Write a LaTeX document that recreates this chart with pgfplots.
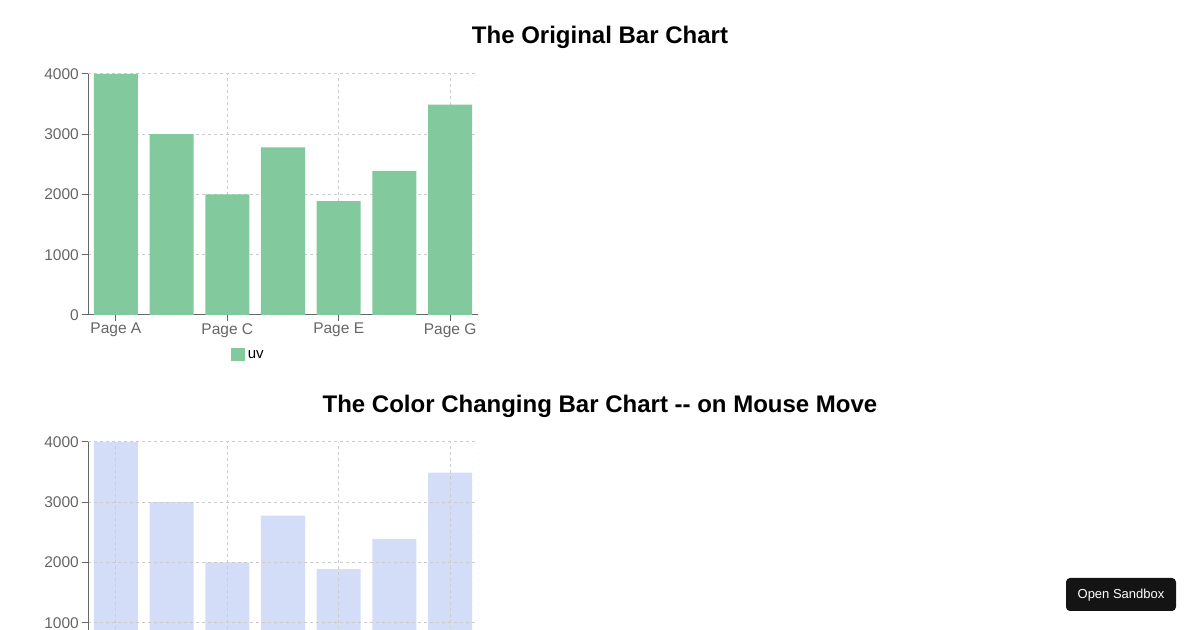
\documentclass[border=0pt]{standalone}
\usepackage{fontspec}
\setmainfont{Liberation Sans}
\usepackage{pgfplots}
\pgfplotsset{compat=1.18}
\definecolor{uvgreen}{HTML}{82CA9D}
\definecolor{paleblue}{HTML}{D4DDF8}
\definecolor{axisgray}{HTML}{666666}
\definecolor{gridgray}{HTML}{CCCCCC}

\pgfplotstableread{
x uv
0 4000
1 3000
2 2000
3 2780
4 1890
5 2390
6 3490
}\pagedata

\pgfplotsset{
  pagechart/.style={
    scale only axis,
    width=390bp, height=241bp,
    anchor=south west,
    xmin=-0.5, xmax=6.5,
    ymin=0, ymax=4000,
    xtick={0,2,4,6},
    xticklabels={Page A,Page C,Page E,Page G},
    ytick={0,1000,2000,3000,4000},
    scaled y ticks=false,
    /pgf/number format/1000 sep={},
    /pgf/number format/assume math mode=true,
    axis x line*=bottom, axis y line*=left,
    axis line style={axisgray, line width=1bp, -},
    tick align=outside,
    major tick length=6bp,
    tick style={axisgray, line width=1bp},
    ticklabel style={font=\fontsize{15.5bp}{18bp}\selectfont, text=axisgray},
    xticklabel style={inner sep=0pt, yshift=-2bp},
    yticklabel style={inner sep=0pt, xshift=-3bp},
    grid=major,
    grid style={gridgray, line width=1bp, dash pattern=on 3bp off 3bp},
    ybar, bar width=44bp,
  }
}

\begin{document}
\begin{tikzpicture}[x=1bp, y=1bp]
\useasboundingbox (0,0) rectangle (1200,630);
\clip (0,0) rectangle (1200,630);

% titles
\node[font=\fontsize{24bp}{28bp}\selectfont\bfseries] at (600,593) {The Original Bar Chart};
\node[font=\fontsize{24bp}{28bp}\selectfont\bfseries] at (600,224) {The Color Changing Bar Chart -{}- on Mouse Move};

% original chart
\begin{axis}[pagechart, at={(88bp,315bp)},
  legend style={at={(0.412,-0.166)}, anchor=center, draw=none, fill=none,
    font=\fontsize{15bp}{18bp}\selectfont, inner sep=0pt,
    nodes={inner xsep=3bp, inner ysep=0pt}},
  legend image code/.code={\fill[uvgreen] (0bp,-6.5bp) rectangle (14bp,6.5bp);},
]
  \addplot[fill=uvgreen, draw=none] table[x=x, y=uv] {\pagedata};
  \addlegendentry{uv}
  \draw[gridgray, line width=1bp, dash pattern=on 3bp off 3bp] (axis cs:6.5,0) -- (axis cs:6.5,4000);
\end{axis}

% colour changing chart (cut off at the bottom of the page, so no x labels show)
\begin{axis}[pagechart, at={(88bp,-53bp)}, axis on top, xticklabels={}]
  \addplot[fill=paleblue, draw=none] table[x=x, y=uv] {\pagedata};
  \draw[gridgray, line width=1bp, dash pattern=on 3bp off 3bp] (axis cs:6.5,0) -- (axis cs:6.5,4000);
\end{axis}

% sandbox button
\fill[black!92, rounded corners=4bp] (1066,19) rectangle (1176,52);
\node[text=white, font=\fontsize{13bp}{15bp}\selectfont] at (1121,34.5) {Open Sandbox};
\end{tikzpicture}
\end{document}
